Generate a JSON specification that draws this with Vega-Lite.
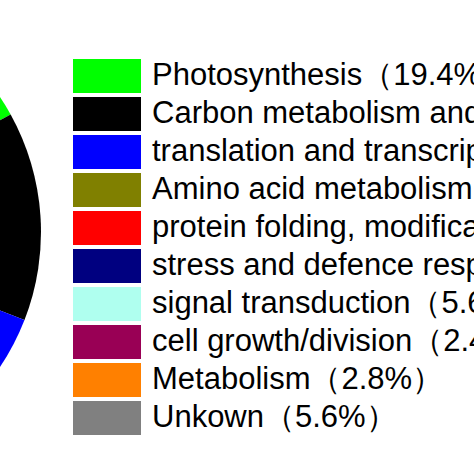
{
  "$schema": "https://vega.github.io/schema/vega-lite/v6.json",
  "width": 486,
  "height": 486,
  "autosize": "none",
  "padding": {"left": -445, "top": -11, "right": 433, "bottom": -1},
  "background": "white",
  "config": {"view": {"stroke": null}},
  "data": {
    "values": [
      {"idx": 1, "label": "Photosynthesis（19.4%）", "share": 19.4},
      {"idx": 2, "label": "Carbon metabolism and energy（13.9%）", "share": 13.9},
      {"idx": 3, "label": "translation and transcription（16.7%）", "share": 16.7},
      {"idx": 4, "label": "Amino acid metabolism（13.9%）", "share": 13.9},
      {"idx": 5, "label": "protein folding, modification（11.1%）", "share": 11.1},
      {"idx": 6, "label": "stress and defence response（8.3%）", "share": 8.3},
      {"idx": 7, "label": "signal transduction（5.6%）", "share": 5.6},
      {"idx": 8, "label": "cell growth/division（2.4%）", "share": 2.4},
      {"idx": 9, "label": "Metabolism（2.8%）", "share": 2.8},
      {"idx": 10, "label": "Unkown（5.6%）", "share": 5.6}
    ]
  },
  "mark": {"type": "arc", "stroke": null},
  "encoding": {
    "theta": {"field": "share", "type": "quantitative", "stack": true, "scale": {"range": [-0.157, 6.126]}},
    "order": {"field": "idx", "type": "quantitative"},
    "color": {
      "field": "label",
      "type": "nominal",
      "scale": {
        "domain": ["Photosynthesis（19.4%）", "Carbon metabolism and energy（13.9%）", "translation and transcription（16.7%）", "Amino acid metabolism（13.9%）", "protein folding, modification（11.1%）", "stress and defence response（8.3%）", "signal transduction（5.6%）", "cell growth/division（2.4%）", "Metabolism（2.8%）", "Unkown（5.6%）"],
        "range": ["#00FF00", "#000000", "#0000FF", "#808000", "#FF0000", "#000080", "#AFFFEF", "#990055", "#FF8000", "#808080"]
      },
      "legend": {
        "orient": "none",
        "legendX": 535,
        "legendY": 70,
        "title": null,
        "padding": 0,
        "symbolType": "M-2,-1H2V1H-2Z",
        "symbolSize": 1156,
        "symbolStrokeWidth": 0,
        "symbolOpacity": 1,
        "labelFont": "Liberation Sans",
        "labelFontSize": 31,
        "labelColor": "#000000",
        "labelLimit": 2000,
        "labelOffset": 28,
        "rowPadding": 4
      }
    }
  }
}
